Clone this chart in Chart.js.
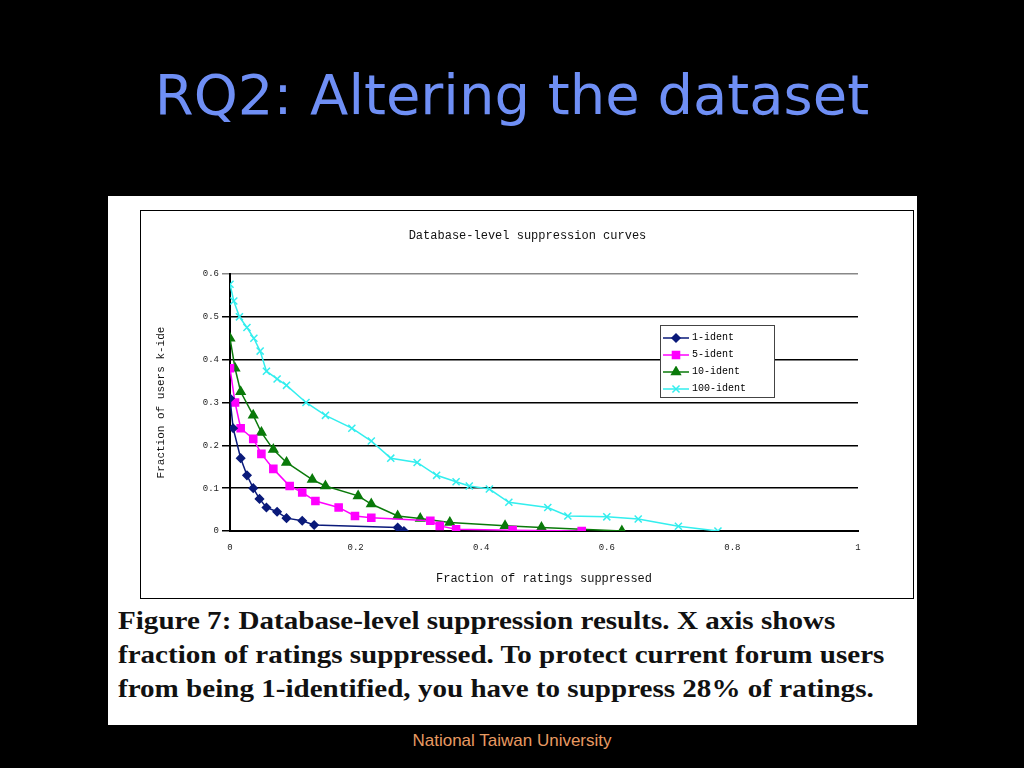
<!DOCTYPE html>
<html><head><meta charset="utf-8">
<script src="https://cdn.jsdelivr.net/npm/chart.js"></script>
<style>
body{margin:0;width:1024px;height:768px;background:#000;position:relative;overflow:hidden;font-family:"Liberation Sans",sans-serif}
#title{position:absolute;left:0;width:1024px;top:62px;text-align:center;color:#6f8ff5;font-size:56px;font-family:"DejaVu Sans",sans-serif;font-weight:normal;letter-spacing:0px}
#img{position:absolute;left:108px;top:196px;width:809px;height:529px;background:#fff}
#frame{position:absolute;left:140px;top:210px;width:774px;height:389px;border:1px solid #000;box-sizing:border-box}
#cwrap{position:absolute;left:140px;top:210px;width:775px;height:390px}
#ctitle{position:absolute;left:140px;width:775px;top:229px;text-align:center;font-family:"Liberation Mono",monospace;font-size:12px;color:#111}
#legend{position:absolute;left:660px;top:325px;width:115px;height:73px;border:1px solid #444;background:#fff;font-family:"Liberation Mono",monospace;font-size:10px;box-sizing:border-box;padding:3px 0 0 2px}
#legend div{height:17px;display:flex;align-items:center}
#legend canvas{margin-right:3px}
#caption{position:absolute;left:118px;top:604px;font-family:"Liberation Serif",serif;font-weight:bold;font-size:25px;line-height:34px;color:#111;white-space:nowrap;transform:scaleX(1.163);transform-origin:0 0}
#footer{position:absolute;left:0;width:1024px;top:731px;text-align:center;color:#e89a62;font-size:17px}
</style></head><body>
<div id="title">RQ2: Altering the dataset</div>
<div id="img"></div>
<div id="frame"></div>
<div id="cwrap"><canvas id="c" width="775" height="390"></canvas></div>
<div id="ctitle">Database-level suppression curves</div>
<div id="legend"></div>
<div id="caption">Figure 7: Database-level suppression results. X axis shows<br>fraction of ratings suppressed. To protect current forum users<br>from being 1-identified, you have to suppress 28% of ratings.</div>
<div id="footer">National Taiwan University</div>
<script>
const seriesNames=["1-ident","5-ident","10-ident","100-ident"];
const x1=[0,0.005,0.017,0.027,0.037,0.047,0.058,0.075,0.09,0.115,0.134,0.267,0.277];
const y1=[0.31,0.24,0.17,0.13,0.1,0.075,0.055,0.045,0.03,0.024,0.014,0.008,0];
const x5=[0,0.008,0.017,0.037,0.05,0.069,0.095,0.115,0.136,0.173,0.199,0.225,0.319,0.334,0.36,0.45,0.56];
const y5=[0.38,0.3,0.24,0.215,0.18,0.145,0.105,0.09,0.07,0.055,0.035,0.031,0.024,0.012,0.004,0.002,0];
const x10=[0,0.008,0.017,0.037,0.05,0.069,0.09,0.131,0.152,0.204,0.225,0.267,0.303,0.35,0.438,0.496,0.624];
const y10=[0.45,0.38,0.325,0.27,0.23,0.19,0.16,0.12,0.105,0.082,0.063,0.035,0.029,0.02,0.012,0.008,0];
const x100=[0,0.006,0.015,0.027,0.038,0.048,0.058,0.075,0.09,0.121,0.152,0.194,0.225,0.256,0.298,0.329,0.36,0.381,0.413,0.444,0.506,0.538,0.6,0.65,0.714,0.777];
const y100=[0.576,0.537,0.5,0.475,0.45,0.42,0.373,0.355,0.34,0.30,0.27,0.24,0.21,0.17,0.16,0.13,0.115,0.105,0.098,0.067,0.055,0.035,0.033,0.028,0.011,0];
const xTicks=[0,0.2,0.4,0.6,0.8,1];
const colors=["#0a1a7a","#ff00ff","#0a7a0a","#33eeee"];
const styles=["rectRot","rect","triangle","crossRot"];
const sizes=[4,5,5,5];
const xs=[x1,x5,x10,x100], ys=[y1,y5,y10,y100];
const datasets=seriesNames.map((n,i)=>({label:n,data:xs[i].map((x,j)=>({x,y:ys[i][j]})),showLine:true,borderColor:colors[i],backgroundColor:colors[i],borderWidth:1.5,pointStyle:styles[i],pointRadius:sizes[i],pointBorderWidth:1.5}));
new Chart(document.getElementById('c'),{type:'scatter',data:{datasets},
options:{responsive:false,animation:false,layout:{padding:{top:64,right:57,left:10,bottom:10}},
plugins:{legend:{display:false},tooltip:{enabled:false}},
scales:{
x:{min:0,max:1,afterFit:s=>{s.height=59},afterBuildTicks:s=>{s.ticks=xTicks.map(v=>({value:v}))},
 grid:{display:false,drawTicks:true},border:{color:'#000',width:2},
 ticks:{color:'#222',font:{family:'Liberation Mono',size:9},callback:v=>String(v)},
 title:{display:true,text:'Fraction of ratings suppressed',color:'#111',font:{family:'Liberation Mono',size:12}}},
y:{min:0,max:0.6,afterFit:s=>{s.width=80},
 ticks:{stepSize:0.1,color:'#222',font:{family:'Liberation Mono',size:9},callback:v=>String(Math.round(v*10)/10)},
 grid:{color:c=>c.tick.value>0.55?'#888':'#000',lineWidth:1.5,drawTicks:true},border:{color:'#000',width:2},
 title:{display:true,text:'Fraction of users k-ide',color:'#111',font:{family:'Liberation Mono',size:11}}}
}}});
const lg=document.getElementById('legend');
seriesNames.forEach((n,i)=>{const d=document.createElement('div');const cv=document.createElement('canvas');cv.width=26;cv.height=12;const g=cv.getContext('2d');g.strokeStyle=colors[i];g.fillStyle=colors[i];g.lineWidth=1.5;g.beginPath();g.moveTo(0,6);g.lineTo(26,6);g.stroke();Chart.helpers.drawPoint(g,{pointStyle:styles[i],radius:sizes[i],borderWidth:1.5},13,6);d.appendChild(cv);d.appendChild(document.createTextNode(n));lg.appendChild(d);});
</script></body></html>
